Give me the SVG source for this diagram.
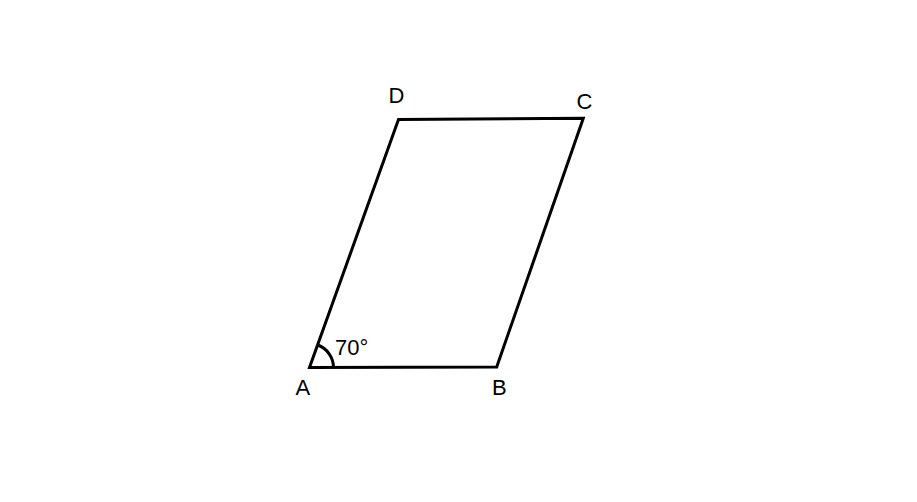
<svg xmlns="http://www.w3.org/2000/svg" width="917" height="502" viewBox="0 0 917 502">
<style>
.edge{fill:none;stroke:#000;stroke-width:3;stroke-linejoin:miter}
.lbl{font-family:"Liberation Sans",Arial,sans-serif;font-size:22px;fill:#000}
</style>
<rect width="917" height="502" fill="#fff"/>
<g id="connectors">
<polygon class="edge" points="309.5,367.5 496.7,367 583.3,118.3 398.5,119.5"/>
<path class="edge" d="M333.5,367.5 A24,24 0 0 0 317.7,345"/>
</g>
<g id="A"><text class="lbl" x="295.5" y="395">A</text></g>
<g id="B"><text class="lbl" x="492" y="395">B</text></g>
<g id="C"><text class="lbl" x="576.5" y="108.5">C</text></g>
<g id="D"><text class="lbl" x="388.5" y="103">D</text></g>
<g id="angle"><text class="lbl" x="335" y="354.5" font-size="20.5">70°</text></g>
</svg>
